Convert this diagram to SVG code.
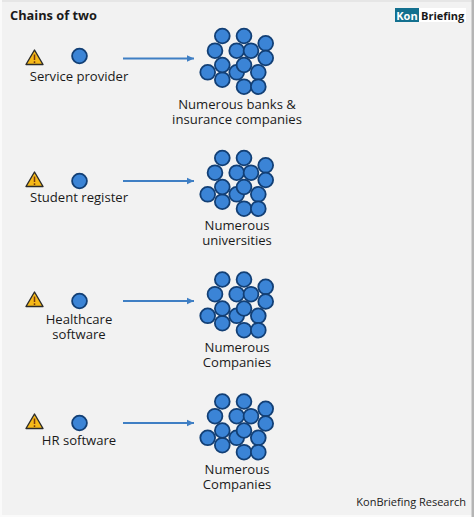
<svg xmlns="http://www.w3.org/2000/svg" xmlns:xlink="http://www.w3.org/1999/xlink" width="474" height="517" viewBox="0 0 474 517">
<style>
text{font-family:"Open Sans","Noto Sans","DejaVu Sans",sans-serif;font-size:13.1px;fill:#1a1a1a}
.m{text-anchor:middle}
.dot{fill:#3b84d6;stroke:#123f75;stroke-width:1.8}
.arrow{stroke:#3f7fc4;stroke-width:2;fill:none;marker-end:url(#ah)}
.tri{fill:#f6b918;stroke:#2b2b2b;stroke-width:1.4;stroke-linejoin:round}
.ex{stroke:#7a3a10;stroke-width:1.5}
</style>
<defs>
<marker id="ah" markerUnits="userSpaceOnUse" markerWidth="8" markerHeight="8" refX="7" refY="4" orient="auto"><path d="M0 0.8L7 4L0 7.2Z" fill="#3f7fc4"/></marker>
<g id="cluster">
<circle class="dot" cx="222.3" cy="36" r="7.4"/><circle class="dot" cx="244" cy="36" r="7.4"/><circle class="dot" cx="265.7" cy="43.3" r="7.4"/><circle class="dot" cx="215" cy="50.7" r="7.4"/><circle class="dot" cx="236.7" cy="50.7" r="7.4"/><circle class="dot" cx="251" cy="50.7" r="7.4"/><circle class="dot" cx="265.7" cy="58" r="7.4"/><circle class="dot" cx="207.7" cy="72.3" r="7.4"/><circle class="dot" cx="222.3" cy="79.7" r="7.4"/><circle class="dot" cx="222.3" cy="65" r="7.4"/><circle class="dot" cx="236.7" cy="72.3" r="7.4"/><circle class="dot" cx="244" cy="65" r="7.4"/><circle class="dot" cx="258.3" cy="72.3" r="7.4"/><circle class="dot" cx="244" cy="86.7" r="7.4"/><circle class="dot" cx="258.3" cy="86.7" r="7.4"/>
</g>
<g id="warn"><path class="tri" d="M34.5 50L26 64.5H43Z"/><path class="ex" d="M34.5 54.5V60M34.5 61.3V63"/></g>
</defs>
<rect width="474" height="517" fill="#f2f2f2"/>
<rect x="0" y="0" width="474" height="2" fill="#e6e6e6"/>
<rect x="0" y="0" width="2" height="517" fill="#fafafa"/>
<rect x="0" y="515" width="474" height="2" fill="#fafafa"/>
<rect x="471.5" y="0" width="2.5" height="517" fill="#b5b5b5"/>
<text id="title" x="10" y="20" style="font-weight:700;font-size:12.8px">Chains of two</text>
<g id="logo">
<rect x="395" y="8" width="24" height="14" fill="#13708f"/><rect x="419" y="8" width="47" height="14" fill="#ffffff"/>
<text x="407" y="19.5" class="m" style="font-weight:700;font-size:11px;fill:#ffffff">Kon</text>
<text x="421" y="19.5" style="font-weight:700;font-size:11px">Briefing</text>
</g>
<g id="connectors">
<line class="arrow" x1="123" y1="58.5" x2="194" y2="58.5"/>
<line class="arrow" x1="123" y1="181" x2="194" y2="181"/>
<line class="arrow" x1="123" y1="301" x2="194" y2="301"/>
<line class="arrow" x1="123" y1="423" x2="194" y2="423"/>
</g>
<g id="chain1">
<use href="#warn"/><circle class="dot" cx="79.5" cy="56" r="7.4"/>
<text x="79" y="81" class="m">Service provider</text>
<use href="#cluster"/>
<text x="237" y="109" class="m">Numerous banks &amp;</text><text x="237" y="124" class="m">insurance companies</text>
</g>
<g id="chain2">
<use href="#warn" y="122"/><circle class="dot" cx="79.5" cy="181" r="7.4"/>
<text x="79" y="202" class="m">Student register</text>
<use href="#cluster" y="122"/>
<text x="237" y="230" class="m">Numerous</text><text x="237" y="245" class="m">universities</text>
</g>
<g id="chain3">
<use href="#warn" y="242"/><circle class="dot" cx="79.5" cy="301" r="7.4"/>
<text x="79" y="324" class="m">Healthcare</text><text x="79" y="339" class="m">software</text>
<use href="#cluster" y="243.5"/>
<text x="237" y="352" class="m">Numerous</text><text x="237" y="367" class="m">Companies</text>
</g>
<g id="chain4">
<use href="#warn" y="364"/><circle class="dot" cx="79.5" cy="423" r="7.4"/>
<text x="79" y="445" class="m">HR software</text>
<use href="#cluster" y="365.5"/>
<text x="237" y="474" class="m">Numerous</text><text x="237" y="489" class="m">Companies</text>
</g>
<text id="credit" x="466" y="506" text-anchor="end" style="font-size:11px">KonBriefing Research</text>
</svg>
